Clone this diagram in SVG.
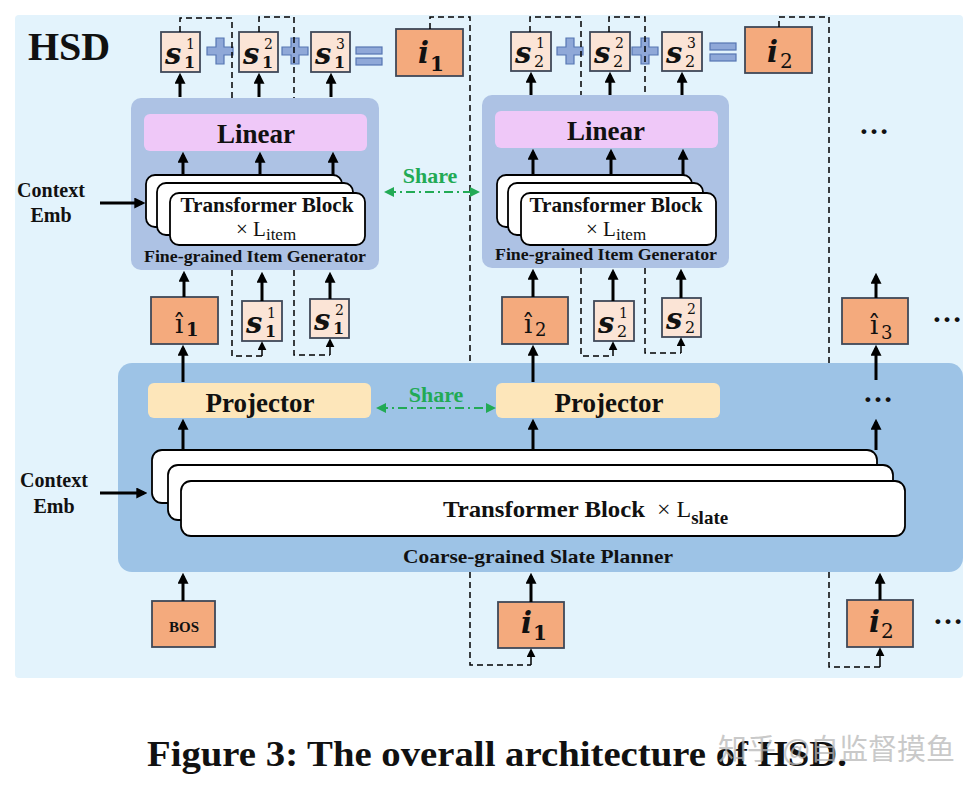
<svg xmlns="http://www.w3.org/2000/svg" width="979" height="789" viewBox="0 0 979 789">
<style>
.bg{fill:#e3f3fc}
.gen{fill:#adc2e4}
.plan{fill:#9dc3e6}
.lin{fill:#efc8f8}
.proj{fill:#fde6ba}
.tb{fill:#fff;stroke:#000;stroke-width:1.8}
.sbox{fill:#fbe4d6;stroke:#3f4858;stroke-width:1.8}
.ibox{fill:#f4aa7d;stroke:#3f4858;stroke-width:1.8}
.sym{fill:#8fa8d8;stroke:#5676b2;stroke-width:1.2}
.arr{stroke:#000;stroke-width:3;fill:none;marker-end:url(#ah)}
.fb{stroke:#000;stroke-width:1.5;fill:none;stroke-dasharray:6 4}
.fba{stroke:#000;stroke-width:1.5;fill:none;marker-end:url(#ahs)}
.share{stroke:#22aa55;stroke-width:1.8;fill:none;stroke-dasharray:9 4 2 4;marker-start:url(#ahg);marker-end:url(#ahg)}
.t{font-family:"Liberation Serif","Times New Roman",serif;font-weight:bold;fill:#111}
.c{text-anchor:middle}
.m{font-family:"DejaVu Serif",serif;fill:#111}
.sv{font-size:29px;font-weight:bold;font-style:italic}
.sup{font-size:14px}
.sub{font-size:16px}
.bd{font-weight:bold}
.g{fill:#22aa55}
</style>
<defs>
<marker id="ah" viewBox="0 0 10 10" refX="7" refY="5" markerWidth="11" markerHeight="11" markerUnits="userSpaceOnUse" orient="auto"><path d="M0,0 L10,5 L0,10 z" fill="#000"/></marker>
<marker id="ahs" viewBox="0 0 10 10" refX="7" refY="5" markerWidth="9" markerHeight="9" markerUnits="userSpaceOnUse" orient="auto"><path d="M0,0 L10,5 L0,10 z" fill="#000"/></marker>
<marker id="ahg" viewBox="0 0 10 10" refX="7" refY="5" markerWidth="10" markerHeight="10" markerUnits="userSpaceOnUse" orient="auto-start-reverse"><path d="M0,0 L10,5 L0,10 z" fill="#22aa55"/></marker>
<path id="plus" class="sym" d="M-4,-13 h8 v9 h9 v8 h-9 v9 h-8 v-9 h-9 v-8 h9 z"/>
<g id="eq"><rect class="sym" x="0" y="0" width="26" height="7"/><rect class="sym" x="0" y="11" width="26" height="7"/></g>
</defs>

<rect class="bg" x="15" y="15" width="948" height="663" rx="4"/>
<text class="t" x="28" y="60" font-size="40">HSD</text>

<!-- Fine-grained generator 1 -->
<g id="gen1">
<rect class="gen" x="131" y="98" width="248" height="172" rx="10"/>
<rect class="lin" x="144" y="114" width="223" height="37" rx="6"/>
<text class="t c" x="256" y="143" font-size="27">Linear</text>
<rect class="tb" x="146" y="175" width="196" height="52" rx="9"/>
<rect class="tb" x="157" y="183" width="196" height="52" rx="9"/>
<rect class="tb" x="170" y="193" width="195" height="52" rx="9"/>
<text class="t c" x="267" y="212" font-size="20" textLength="173" lengthAdjust="spacingAndGlyphs">Transformer Block</text>
<text class="t" x="236" y="236" font-size="21" style="font-weight:normal">× L<tspan font-size="17" dy="4">item</tspan></text>
<text class="t c" x="255" y="262" font-size="16" textLength="222" lengthAdjust="spacingAndGlyphs">Fine-grained Item Generator</text>
</g>

<!-- Fine-grained generator 2 -->
<g id="gen2">
<rect class="gen" x="482" y="95" width="247" height="173" rx="10"/>
<rect class="lin" x="495" y="111" width="223" height="37" rx="6"/>
<text class="t c" x="606" y="140" font-size="27">Linear</text>
<rect class="tb" x="497" y="175" width="195" height="52" rx="9"/>
<rect class="tb" x="508" y="183" width="195" height="52" rx="9"/>
<rect class="tb" x="521" y="193" width="195" height="52" rx="9"/>
<text class="t c" x="616" y="212" font-size="20" textLength="173" lengthAdjust="spacingAndGlyphs">Transformer Block</text>
<text class="t" x="586" y="236" font-size="21" style="font-weight:normal">× L<tspan font-size="17" dy="4">item</tspan></text>
<text class="t c" x="606" y="260" font-size="16" textLength="222" lengthAdjust="spacingAndGlyphs">Fine-grained Item Generator</text>
</g>

<!-- Coarse-grained planner -->
<g id="planner">
<rect class="plan" x="118" y="363" width="845" height="209" rx="14"/>
<rect class="proj" x="148" y="383" width="223" height="35" rx="6"/>
<text class="t c" x="260" y="412" font-size="27">Projector</text>
<rect class="proj" x="496" y="383" width="224" height="35" rx="6"/>
<text class="t c" x="609" y="412" font-size="27">Projector</text>
<text class="t c" x="878" y="402" font-size="30">…</text>
<rect class="tb" x="152" y="450" width="725" height="53" rx="10"/>
<rect class="tb" x="168" y="465" width="725" height="55" rx="10"/>
<rect class="tb" x="181" y="481" width="724" height="55" rx="10"/>
<text class="t" x="443" y="517" font-size="24" textLength="202" lengthAdjust="spacingAndGlyphs">Transformer Block</text>
<text class="t" x="657" y="517" font-size="24" style="font-weight:normal">× L<tspan font-size="19" dy="7" style="font-weight:bold">slate</tspan></text>
<text class="t c" x="538" y="563" font-size="19" textLength="270" lengthAdjust="spacingAndGlyphs">Coarse-grained Slate Planner</text>
</g>

<!-- Context Emb labels -->
<g id="ctx1">
<text class="t c" x="51" y="197" font-size="20">Context</text>
<text class="t c" x="51" y="222" font-size="20">Emb</text>
</g>
<g id="ctx2">
<text class="t c" x="54" y="487" font-size="20">Context</text>
<text class="t c" x="54" y="513" font-size="20">Emb</text>
</g>

<!-- Top row slate 1 -->
<g id="s11top"><rect class="sbox" x="161" y="32" width="39" height="40"/>
<text class="m"><tspan class="sv" x="165" y="64">s</tspan><tspan class="sup" x="186" y="49">1</tspan><tspan class="sub bd" x="184" y="68">1</tspan></text></g>
<use href="#plus" x="220" y="51"/>
<g id="s12top"><rect class="sbox" x="239" y="32" width="39" height="40"/>
<text class="m"><tspan class="sv" x="243" y="64">s</tspan><tspan class="sup" x="264" y="49">2</tspan><tspan class="sub bd" x="262" y="68">1</tspan></text></g>
<use href="#plus" x="295" y="51"/>
<g id="s13top"><rect class="sbox" x="311" y="32" width="39" height="40"/>
<text class="m"><tspan class="sv" x="315" y="64">s</tspan><tspan class="sup" x="336" y="49">3</tspan><tspan class="sub bd" x="334" y="68">1</tspan></text></g>
<use href="#eq" x="356" y="47"/>
<g id="i1top"><rect class="ibox" x="396" y="29" width="67" height="47"/>
<text class="m"><tspan class="sv" x="418" y="63" font-size="31">i</tspan><tspan class="bd" x="430" y="71" font-size="20">1</tspan></text></g>

<!-- Top row slate 2 -->
<g id="s21top"><rect class="sbox" x="511" y="32" width="40" height="39"/>
<text class="m"><tspan class="sv" x="515" y="63">s</tspan><tspan class="sup" x="536" y="48">1</tspan><tspan class="sub" x="534" y="67">2</tspan></text></g>
<use href="#plus" x="570" y="51"/>
<g id="s22top"><rect class="sbox" x="590" y="32" width="40" height="39"/>
<text class="m"><tspan class="sv" x="594" y="63">s</tspan><tspan class="sup" x="615" y="48">2</tspan><tspan class="sub" x="613" y="67">2</tspan></text></g>
<use href="#plus" x="645" y="51"/>
<g id="s23top"><rect class="sbox" x="662" y="32" width="40" height="39"/>
<text class="m"><tspan class="sv" x="666" y="63">s</tspan><tspan class="sup" x="687" y="48">3</tspan><tspan class="sub" x="685" y="67">2</tspan></text></g>
<use href="#eq" x="710" y="43"/>
<g id="i2top"><rect class="ibox" x="745" y="27" width="67" height="46"/>
<text class="m"><tspan class="sv" x="767" y="62" font-size="31">i</tspan><tspan x="780" y="68" font-size="20">2</tspan></text></g>
<text class="t c" x="874" y="134" font-size="30">…</text>

<!-- Middle row -->
<g id="ihat1"><rect class="ibox" x="151" y="297" width="67" height="47"/>
<text class="m"><tspan x="175" y="333" font-size="26">î</tspan><tspan class="bd" x="186" y="336" font-size="18">1</tspan></text></g>
<g id="s11low"><rect class="sbox" x="242" y="301" width="40" height="40"/>
<text class="m"><tspan class="sv" x="246" y="333">s</tspan><tspan class="sup" x="267" y="318">1</tspan><tspan class="sub bd" x="265" y="337">1</tspan></text></g>
<g id="s12low"><rect class="sbox" x="310" y="299" width="39" height="39"/>
<text class="m"><tspan class="sv" x="314" y="330">s</tspan><tspan class="sup" x="335" y="315">2</tspan><tspan class="sub bd" x="333" y="334">1</tspan></text></g>
<g id="ihat2"><rect class="ibox" x="502" y="297" width="66" height="47"/>
<text class="m"><tspan x="524" y="333" font-size="26">î</tspan><tspan x="535" y="336" font-size="18">2</tspan></text></g>
<g id="s21low"><rect class="sbox" x="594" y="301" width="40" height="40"/>
<text class="m"><tspan class="sv" x="598" y="333">s</tspan><tspan class="sup" x="619" y="318">1</tspan><tspan class="sub" x="617" y="337">2</tspan></text></g>
<g id="s22low"><rect class="sbox" x="662" y="298" width="39" height="39"/>
<text class="m"><tspan class="sv" x="666" y="329">s</tspan><tspan class="sup" x="687" y="314">2</tspan><tspan class="sub" x="685" y="333">2</tspan></text></g>
<g id="ihat3"><rect class="ibox" x="842" y="298" width="66" height="46"/>
<text class="m"><tspan x="870" y="334" font-size="26">î</tspan><tspan x="881" y="339" font-size="18">3</tspan></text></g>
<text class="t c" x="947" y="322" font-size="30">…</text>

<!-- Bottom row -->
<g id="bos"><rect class="ibox" x="152" y="601" width="63" height="46"/>
<text class="t c" x="184" y="632" font-size="15">BOS</text></g>
<g id="i1low"><rect class="ibox" x="498" y="602" width="66" height="46"/>
<text class="m"><tspan class="sv" x="521" y="633" font-size="32">i</tspan><tspan class="bd" x="533" y="640" font-size="20">1</tspan></text></g>
<g id="i2low"><rect class="ibox" x="847" y="600" width="66" height="47"/>
<text class="m"><tspan class="sv" x="869" y="632" font-size="32">i</tspan><tspan x="881" y="638" font-size="20">2</tspan></text></g>
<text class="t c" x="948" y="624" font-size="30">…</text>

<!-- Connectors -->
<g id="connectors">
<path class="fb" d="M180,32 V18 H232 V98 M232,270 V356 H262"/>
<path class="fb" d="M259,32 V17 H294 V98 M294,270 V355 H330"/>
<path class="fb" d="M430,29 V17 H470 V363 M470,572 V665 H531"/>
<path class="fb" d="M530,32 V17 H581 V95 M581,268 V356 H613"/>
<path class="fb" d="M609,32 V17 H645 V95 M645,268 V353 H681"/>
<path class="fb" d="M779,27 V17 H829 V363 M829,572 V667 H880"/>
<line class="fba" x1="262" y1="356" x2="262" y2="344"/>
<line class="fba" x1="330" y1="355" x2="330" y2="341"/>
<line class="fba" x1="531" y1="665" x2="531" y2="651"/>
<line class="fba" x1="613" y1="356" x2="613" y2="344"/>
<line class="fba" x1="681" y1="353" x2="681" y2="340"/>
<line class="fba" x1="880" y1="667" x2="880" y2="650"/>

<line class="arr" x1="180" y1="97" x2="180" y2="76"/>
<line class="arr" x1="259" y1="97" x2="259" y2="76"/>
<line class="arr" x1="331" y1="97" x2="331" y2="76"/>
<line class="arr" x1="183" y1="175" x2="183" y2="155"/>
<line class="arr" x1="260" y1="175" x2="260" y2="155"/>
<line class="arr" x1="333" y1="175" x2="333" y2="155"/>
<line class="arr" x1="531" y1="95" x2="531" y2="75"/>
<line class="arr" x1="610" y1="95" x2="610" y2="75"/>
<line class="arr" x1="682" y1="95" x2="682" y2="75"/>
<line class="arr" x1="533" y1="175" x2="533" y2="152"/>
<line class="arr" x1="611" y1="175" x2="611" y2="152"/>
<line class="arr" x1="683" y1="175" x2="683" y2="152"/>

<line class="arr" x1="184" y1="297" x2="184" y2="274"/>
<line class="arr" x1="262" y1="301" x2="262" y2="275"/>
<line class="arr" x1="330" y1="299" x2="330" y2="275"/>
<line class="arr" x1="533" y1="297" x2="533" y2="272"/>
<line class="arr" x1="613" y1="301" x2="613" y2="272"/>
<line class="arr" x1="681" y1="298" x2="681" y2="272"/>
<line class="arr" x1="876" y1="298" x2="876" y2="276"/>

<line class="arr" x1="183" y1="382" x2="183" y2="348"/>
<line class="arr" x1="533" y1="382" x2="533" y2="348"/>
<line class="arr" x1="876" y1="380" x2="876" y2="348"/>
<line class="arr" x1="183" y1="450" x2="183" y2="422"/>
<line class="arr" x1="533" y1="450" x2="533" y2="422"/>
<line class="arr" x1="876" y1="450" x2="876" y2="422"/>

<line class="arr" x1="183" y1="601" x2="183" y2="576"/>
<line class="arr" x1="531" y1="602" x2="531" y2="576"/>
<line class="arr" x1="880" y1="600" x2="880" y2="576"/>

<line class="arr" x1="100" y1="203" x2="142" y2="203"/>
<line class="arr" x1="100" y1="493" x2="144" y2="493"/>

<line class="share" x1="387" y1="192" x2="477" y2="192"/>
<line class="share" x1="379" y1="408" x2="493" y2="408"/>
</g>
<text class="t c g" x="430" y="183" font-size="22">Share</text>
<text class="t c g" x="436" y="402" font-size="22">Share</text>

<!-- Caption -->
<text class="t" x="147" y="766" font-size="36" textLength="700" lengthAdjust="spacingAndGlyphs">Figure 3: The overall architecture of HSD.</text>
<text x="718" y="760" font-size="29" font-family="'Noto Sans CJK SC', sans-serif" fill="#b8b8b8" opacity="0.75">知乎 @自监督摸鱼</text>
</svg>
